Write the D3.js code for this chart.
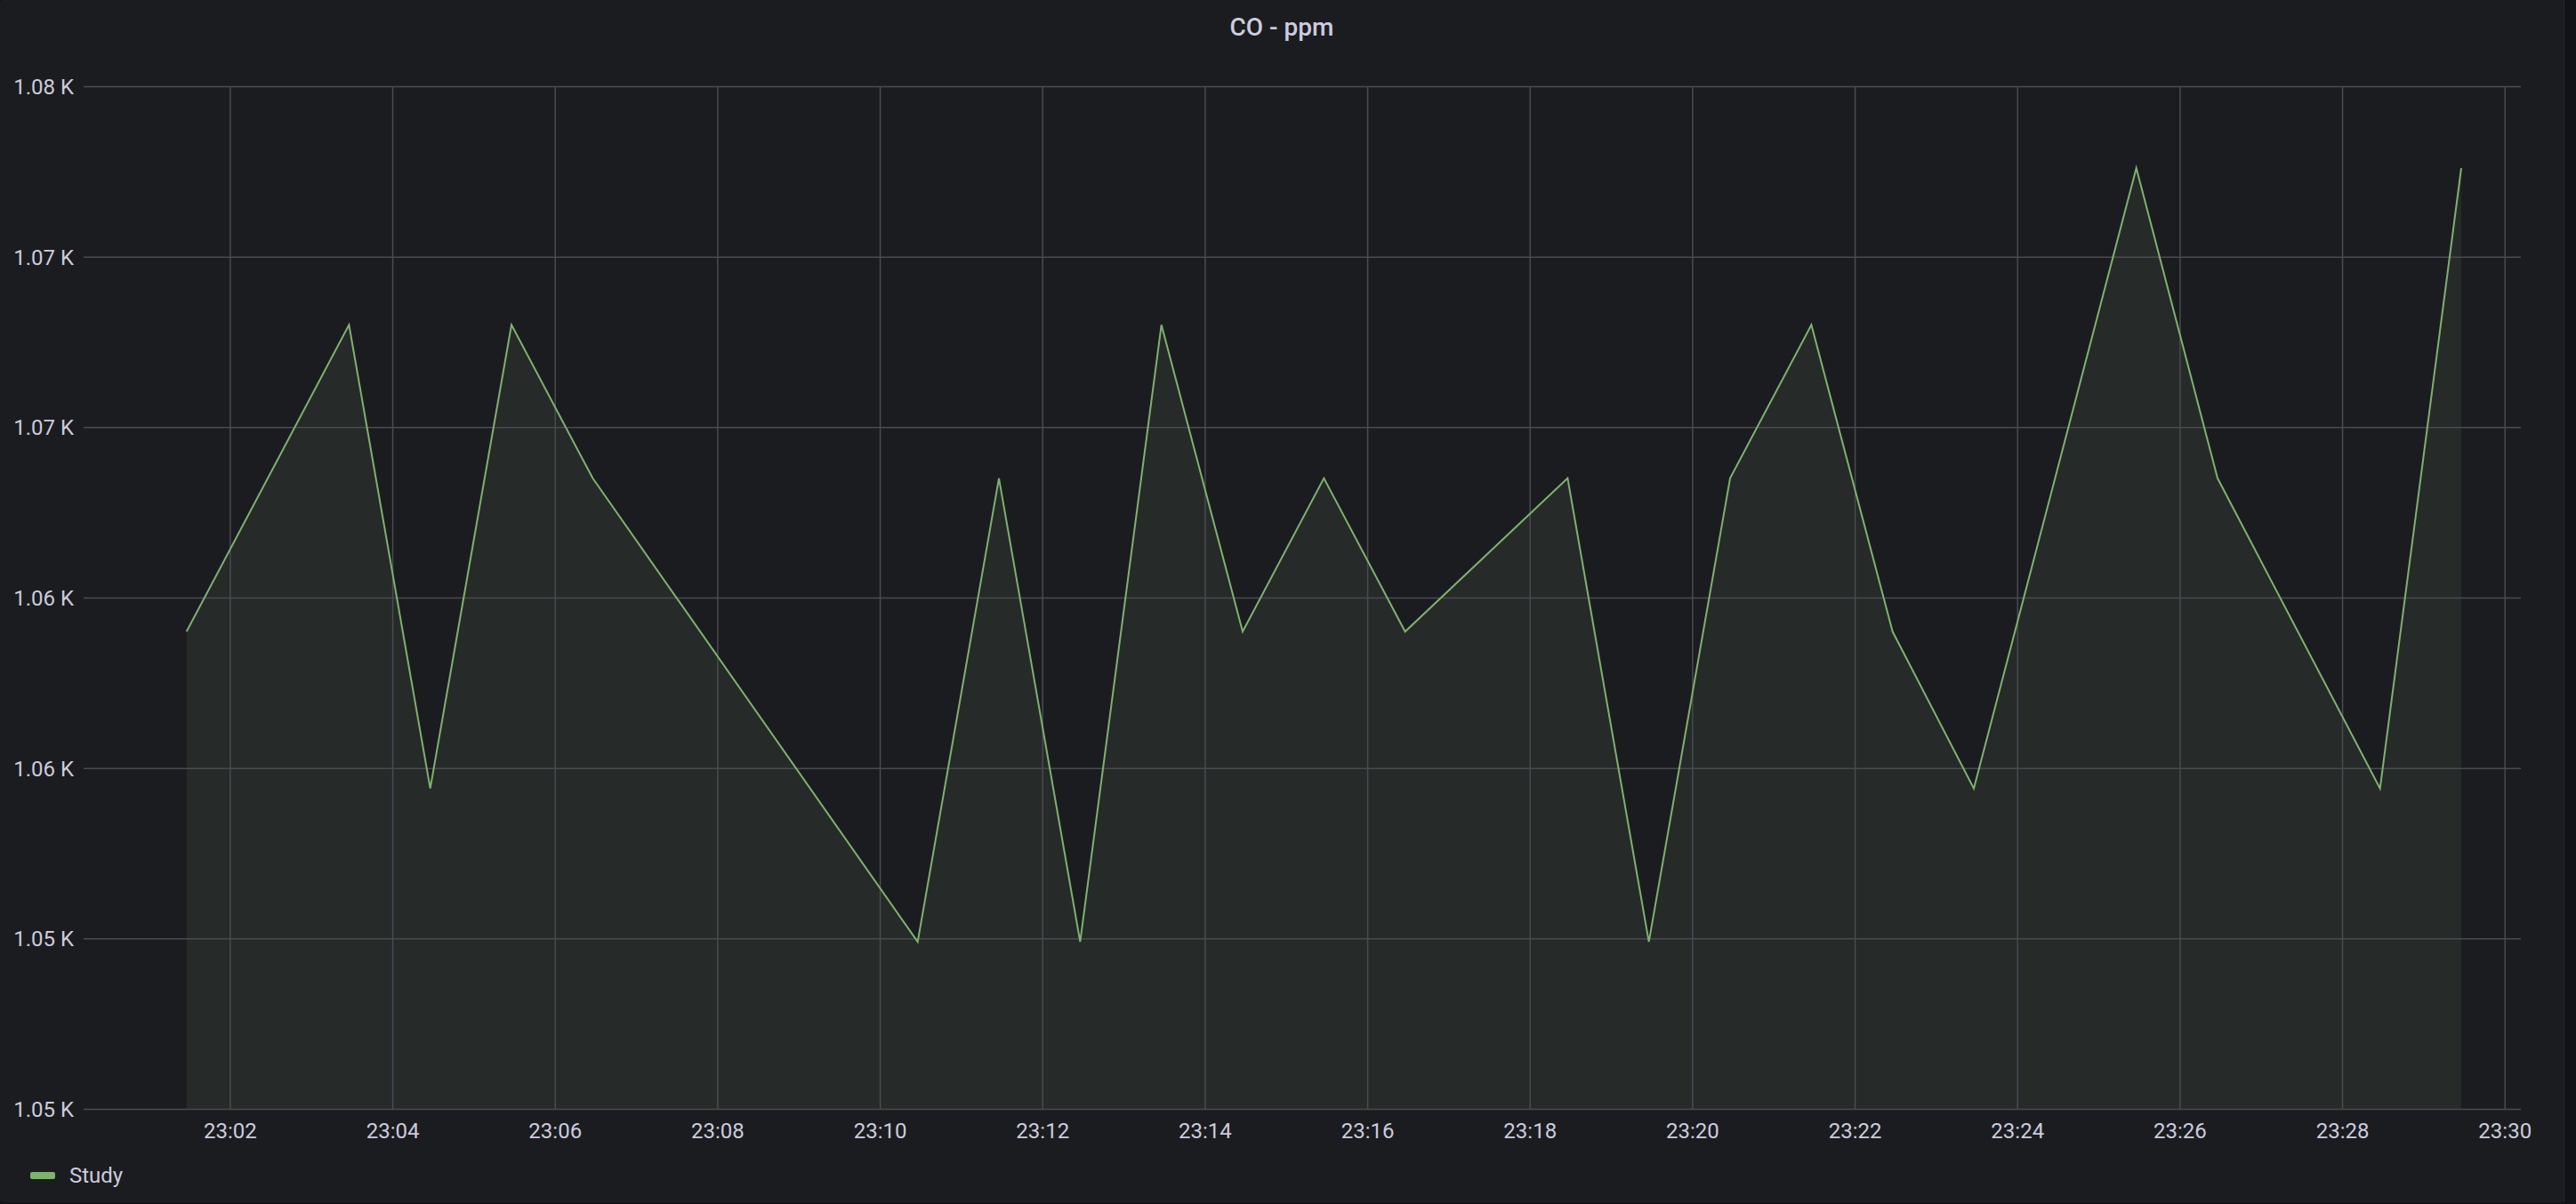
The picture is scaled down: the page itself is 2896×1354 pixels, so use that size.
<!DOCTYPE html>
<html>
<head>
<meta charset="utf-8">
<script src="https://cdn.jsdelivr.net/npm/d3@7"></script>
<style>
  html, body { margin: 0; padding: 0; background: #111217; }
  svg { display: block; }
</style>
</head>
<body>
<svg id="chart" width="2896" height="1354"></svg>
<script>
// ---- data ----
const title = "CO - ppm";
const seriesName = "Study";
const times = ["23:01:28","23:03:28","23:04:28","23:05:28","23:06:28","23:10:28","23:11:28",
  "23:12:28","23:13:28","23:14:28","23:15:28","23:16:28","23:18:28","23:19:28","23:20:28",
  "23:21:28","23:22:28","23:23:28","23:25:28","23:26:28","23:28:28","23:29:28"];
const values = [1064.0,1073.0,1059.4,1073.0,1068.5,1054.9,1068.5,
  1054.9,1073.0,1064.0,1068.5,1064.0,1068.5,1054.9,1068.5,
  1073.0,1064.0,1059.4,1077.6,1068.5,1059.4,1077.6];
const yTickValues = [1050,1055,1060,1065,1070,1075,1080];
const yTickLabels = ["1.05 K","1.05 K","1.06 K","1.06 K","1.07 K","1.07 K","1.08 K"];
const xTickTimes = ["23:02","23:04","23:06","23:08","23:10","23:12","23:14","23:16",
  "23:18","23:20","23:22","23:24","23:26","23:28","23:30"];
const xDomain = ["23:00:12","23:30:12"];
const yDomain = [1050,1080];

(function () {
// ---- helpers ----
const toDate = s => {
  const p = s.split(":").map(Number);
  return new Date(2021, 0, 1, p[0], p[1], p[2] || 0);
};
const data = times.map((t, i) => ({ t: toDate(t), v: values[i] }));

// ---- layout ----
const panelW = 2883, panelH = 1352;
const mLeft = 94, mRight = 2834, mTop = 97, mBottom = 1247;
const lineColor = "#7eb26d";
const gridColor = "#4a4b50";
const textColor = "#ccccdc";
const font = "Roboto, 'Noto Sans', sans-serif";

const svg = d3.select("#chart");

svg.append("rect").attr("x", 0).attr("y", 0).attr("width", panelW).attr("height", panelH)
  .attr("rx", 3).attr("fill", "#1b1c20");
svg.append("line").attr("x1", panelW - 0.5).attr("x2", panelW - 0.5).attr("y1", 0).attr("y2", panelH)
  .attr("stroke", "#26272b").attr("stroke-width", 1);

const x = d3.scaleTime().domain(xDomain.map(toDate)).range([mLeft, mRight]);
const y = d3.scaleLinear().domain(yDomain).range([mBottom, mTop]);

// title
svg.append("text").attr("x", 1441).attr("y", 40).attr("text-anchor", "middle")
  .attr("font-family", font).attr("font-size", 28).attr("font-weight", 500)
  .attr("fill", textColor).text(title);

// fill area
const area = d3.area().x(d => x(d.t)).y0(y(yDomain[0])).y1(d => y(d.v));
svg.append("path").datum(data).attr("d", area)
  .attr("fill", "#262a29");

// y grid + labels
const yAxis = d3.axisLeft(y).tickValues(yTickValues)
  .tickFormat((d, i) => yTickLabels[i]).tickSize(-(mRight - mLeft)).tickPadding(10);
const gy = svg.append("g").attr("transform", `translate(${mLeft},0)`).call(yAxis);
gy.select(".domain").remove();
gy.selectAll(".tick line").attr("stroke", gridColor).attr("stroke-width", 1.5);
gy.selectAll(".tick text").attr("fill", textColor).attr("font-family", font)
  .attr("font-size", 24).attr("dy", "0.35em").attr("x", -11);

// x grid + labels
const xAxis = d3.axisBottom(x).tickValues(xTickTimes.map(toDate))
  .tickFormat((d, i) => xTickTimes[i]).tickSize(-(mBottom - mTop)).tickPadding(0);
const gx = svg.append("g").attr("transform", `translate(0,${mBottom})`).call(xAxis);
gx.select(".domain").remove();
gx.selectAll(".tick line").attr("stroke", gridColor).attr("stroke-width", 1.5);
gx.selectAll(".tick text").attr("fill", textColor).attr("font-family", font)
  .attr("font-size", 24).attr("y", 33).attr("dy", 0);

// line
const line = d3.line().x(d => x(d.t)).y(d => y(d.v));
svg.append("path").datum(data).attr("d", line)
  .attr("fill", "none").attr("stroke", lineColor).attr("stroke-width", 2)
  .attr("stroke-linejoin", "miter");

// legend
const lg = svg.append("g").attr("transform", "translate(34,1318)");
lg.append("rect").attr("x", 0).attr("y", 0).attr("width", 28).attr("height", 8)
  .attr("rx", 2).attr("fill", lineColor);
lg.append("text").attr("x", 44).attr("y", 4).attr("dy", "0.35em")
  .attr("font-family", font).attr("font-size", 24).attr("fill", textColor).text(seriesName);
})();
</script>
</body>
</html>
